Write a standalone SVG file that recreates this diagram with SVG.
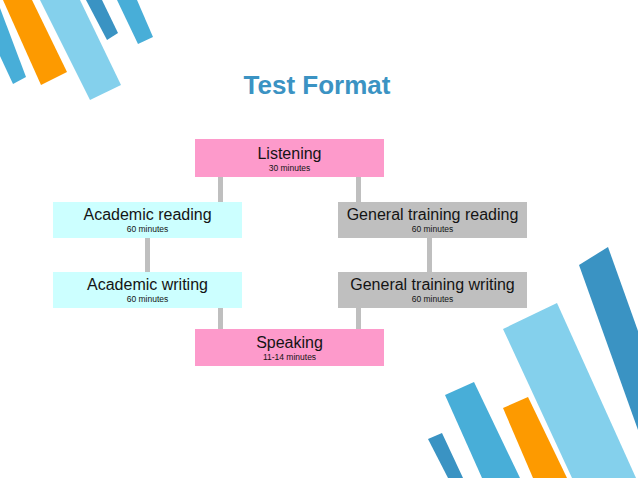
<svg xmlns="http://www.w3.org/2000/svg" width="638" height="478" viewBox="0 0 638 478">
<style>
.dk{fill:#3a93c3}.md{fill:#48aed8}.lt{fill:#84d0ec}.or{fill:#fd9a00}
.pink{fill:#fd9acb}.cyan{fill:#ccffff}.grey{fill:#bfbfbf}
.t{font-family:"Liberation Sans",Arial,sans-serif;font-size:16px;fill:#141414;text-anchor:middle}
.s{font-family:"Liberation Sans",Arial,sans-serif;font-size:8.5px;fill:#141414;text-anchor:middle}
.c{stroke:#bfbfbf;stroke-width:5;fill:none}
</style>
<rect width="638" height="478" fill="#ffffff"/>
<g id="decor">
<polygon class="md" points="0,8 26,77 13,84 0,56"/>
<polygon class="or" points="3,0 32,0 67,72 41,85"/>
<polygon class="lt" points="40,0 80,0 121,85 90,100"/>
<polygon class="dk" points="86,0 102,0 118,33 107,40"/>
<polygon class="md" points="117,0 137,0 153,37 138,44"/>
<polygon class="dk" points="579,265 608,247 638,331 638,430"/>
<polygon class="lt" points="503,329 557,303 636,478 572,478"/>
<polygon class="or" points="503,408 528,397 567,478 533,478"/>
<polygon class="md" points="445,395 474,382 520,478 482,478"/>
<polygon class="dk" points="428,439 442,433 463,478 448,478"/>
</g>
<text x="317" y="94" font-family="Liberation Sans,Arial,sans-serif" font-size="26" font-weight="bold" fill="#3b93c3" text-anchor="middle">Test Format</text>
<g id="connectors">
<line class="c" x1="220.5" y1="177" x2="220.5" y2="202"/>
<line class="c" x1="358.5" y1="177" x2="358.5" y2="202"/>
<line class="c" x1="147.5" y1="238" x2="147.5" y2="272"/>
<line class="c" x1="429.5" y1="238" x2="429.5" y2="272"/>
<line class="c" x1="220.5" y1="308" x2="220.5" y2="329"/>
<line class="c" x1="358.5" y1="308" x2="358.5" y2="329"/>
</g>
<g id="listening">
<rect class="pink" x="195" y="139" width="189" height="38"/>
<text class="t" x="289.5" y="159">Listening</text>
<text class="s" x="289.5" y="170.5">30 minutes</text>
</g>
<g id="academic-reading">
<rect class="cyan" x="53" y="202" width="189" height="36"/>
<text class="t" x="147.5" y="220">Academic reading</text>
<text class="s" x="147.5" y="231.5">60 minutes</text>
</g>
<g id="general-reading">
<rect class="grey" x="338" y="202" width="189" height="36"/>
<text class="t" x="432.5" y="220">General training reading</text>
<text class="s" x="432.5" y="231.5">60 minutes</text>
</g>
<g id="academic-writing">
<rect class="cyan" x="53" y="272" width="189" height="36"/>
<text class="t" x="147.5" y="290">Academic writing</text>
<text class="s" x="147.5" y="301.5">60 minutes</text>
</g>
<g id="general-writing">
<rect class="grey" x="338" y="272" width="189" height="36"/>
<text class="t" x="432.5" y="290">General training writing</text>
<text class="s" x="432.5" y="301.5">60 minutes</text>
</g>
<g id="speaking">
<rect class="pink" x="195" y="329" width="189" height="37"/>
<text class="t" x="289.5" y="348">Speaking</text>
<text class="s" x="289.5" y="359.5">11-14 minutes</text>
</g>
</svg>
